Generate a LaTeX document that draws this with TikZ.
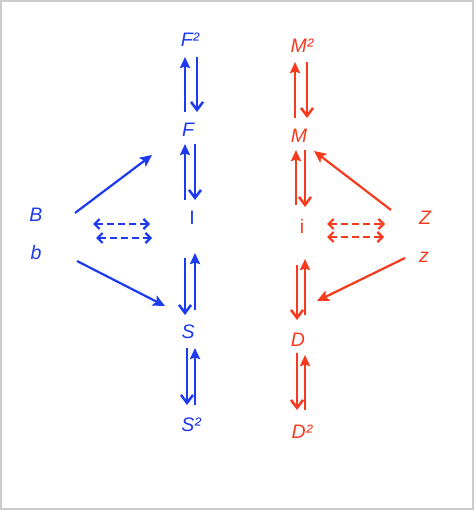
\documentclass[tikz,border=0pt]{standalone}
\usepackage{fontspec}
\setmainfont{Liberation Sans}
\usetikzlibrary{arrows.meta}
\definecolor{cblue}{RGB}{28,58,240}
\definecolor{cred}{RGB}{245,58,30}
\begin{document}
\begin{tikzpicture}[x=1pt,y=-1pt,
  lab/.style={font=\fontsize{19.5}{22}\selectfont\itshape, inner sep=0pt},
  labup/.style={font=\fontsize{19.5}{22}\selectfont, inner sep=0pt},
  uparr/.style={line width=2.5pt, -{Stealth[length=11pt,width=10pt,inset=1.5pt]}},
  dnarr/.style={line width=2.5pt, -{Straight Barb[length=8pt,width=12pt]}},
  diag/.style={line width=2.2pt, -{Stealth[length=12pt,width=11pt,inset=2.5pt]}},
  dash2/.style={line width=2.2pt, dash pattern=on 7pt off 4pt, {Straight Barb[length=5pt,width=10pt]}-{Straight Barb[length=5pt,width=10pt]}}]
\fill[gray!40] (0,0) rectangle (474,510);
\fill[white] (2,2) rectangle (472,508);
\useasboundingbox (0,0) rectangle (474,510);
% blue labels
\begin{scope}[text=cblue]
\node[lab] (F2) at (190,40) {F²};
\node[lab] (F) at (188,130) {F};
\node[labup] (I) at (192,218) {I};
\node[lab] (S) at (188,332) {S};
\node[lab] (S2) at (191,425) {S²};
\node[lab] (B) at (36,215) {B};
\node[lab] (b) at (36,253) {b};
\end{scope}
\begin{scope}[text=cred]
\node[lab] (M2) at (302,46) {M²};
\node[lab] (M) at (299,136) {M};
\node[labup] (i) at (302,226) {i};
\node[lab] (D) at (298,340) {D};
\node[lab] (D2) at (302,432) {D²};
\node[lab] (Z) at (425,218) {Z};
\node[lab] (z) at (424,257) {z};
\end{scope}
% coordinates
\coordinate (b1u0) at (185,112); \coordinate (b1u1) at (185,57);
\coordinate (b1d0) at (197,57); \coordinate (b1d1) at (197,112);
\coordinate (b2u0) at (185,200); \coordinate (b2u1) at (185,144);
\coordinate (b2d0) at (195,144); \coordinate (b2d1) at (195,200);
\coordinate (b3u0) at (195,310); \coordinate (b3u1) at (195,253);
\coordinate (b3d0) at (185,258); \coordinate (b3d1) at (185,315);
\coordinate (b4u0) at (195,405); \coordinate (b4u1) at (195,348);
\coordinate (b4d0) at (187,348); \coordinate (b4d1) at (187,405);
\coordinate (r1u0) at (295,118); \coordinate (r1u1) at (295,62);
\coordinate (r1d0) at (307,62); \coordinate (r1d1) at (307,118);
\coordinate (r2u0) at (296,205); \coordinate (r2u1) at (296,150);
\coordinate (r2d0) at (305,150); \coordinate (r2d1) at (305,207);
\coordinate (r3u0) at (305,315); \coordinate (r3u1) at (305,259);
\coordinate (r3d0) at (297,265); \coordinate (r3d1) at (297,320);
\coordinate (r4u0) at (305,410); \coordinate (r4u1) at (305,355);
\coordinate (r4d0) at (297,353); \coordinate (r4d1) at (297,410);
\coordinate (Bs) at (75,213); \coordinate (Be) at (152,155);
\coordinate (bs) at (77,261); \coordinate (be) at (165,306);
\coordinate (Zs) at (391,210); \coordinate (Ze) at (314,151);
\coordinate (zs) at (405,258); \coordinate (ze) at (317,301);
\coordinate (bd1a) at (93,224); \coordinate (bd1b) at (150,224);
\coordinate (bd2a) at (96,238); \coordinate (bd2b) at (152,238);
\coordinate (rd1a) at (327,224); \coordinate (rd1b) at (385,224);
\coordinate (rd2a) at (327,237); \coordinate (rd2b) at (384,237);
\begin{scope}[draw=cblue, color=cblue]
\draw[uparr] (b1u0) -- (b1u1); \draw[dnarr] (b1d0) -- (b1d1);
\draw[uparr] (b2u0) -- (b2u1); \draw[dnarr] (b2d0) -- (b2d1);
\draw[uparr] (b3u0) -- (b3u1); \draw[dnarr] (b3d0) -- (b3d1);
\draw[uparr] (b4u0) -- (b4u1); \draw[dnarr] (b4d0) -- (b4d1);
\draw[diag] (Bs) -- (Be);
\draw[diag] (bs) -- (be);
\draw[dash2] (bd1a) -- (bd1b);
\draw[dash2] (bd2a) -- (bd2b);
\end{scope}
\begin{scope}[draw=cred, color=cred]
\draw[uparr] (r1u0) -- (r1u1); \draw[dnarr] (r1d0) -- (r1d1);
\draw[uparr] (r2u0) -- (r2u1); \draw[dnarr] (r2d0) -- (r2d1);
\draw[uparr] (r3u0) -- (r3u1); \draw[dnarr] (r3d0) -- (r3d1);
\draw[uparr] (r4u0) -- (r4u1); \draw[dnarr] (r4d0) -- (r4d1);
\draw[diag] (Zs) -- (Ze);
\draw[diag] (zs) -- (ze);
\draw[dash2] (rd1a) -- (rd1b);
\draw[dash2] (rd2a) -- (rd2b);
\end{scope}
\end{tikzpicture}
\end{document}
